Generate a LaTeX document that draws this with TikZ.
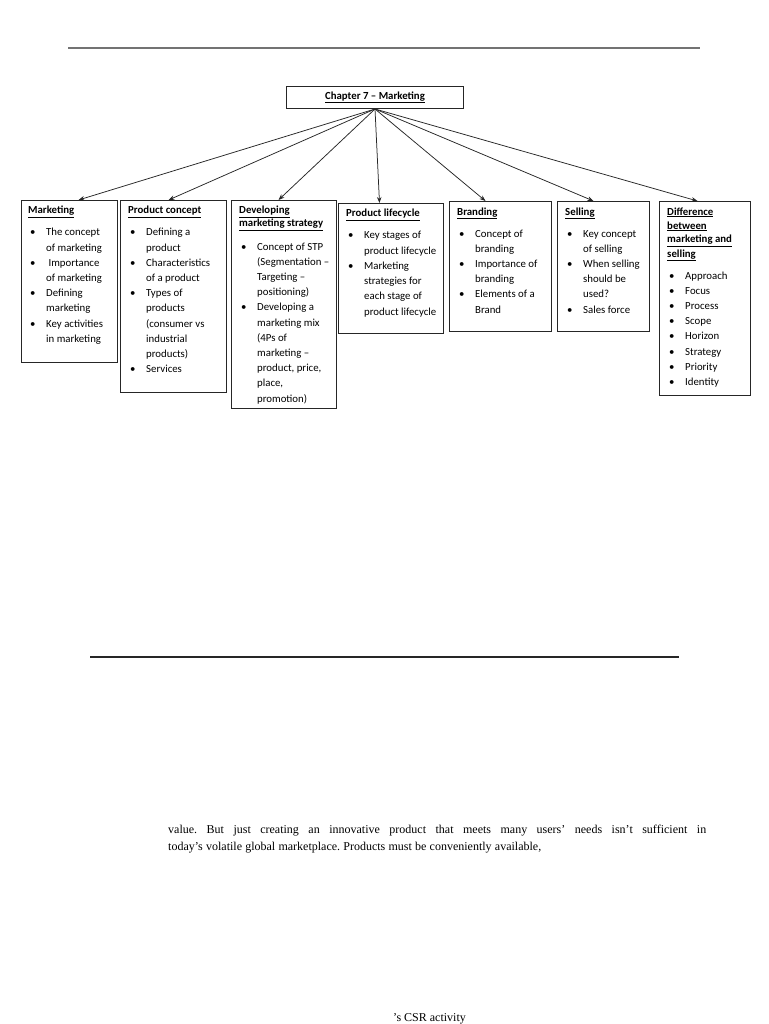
\documentclass[tikz,border=0pt]{standalone}
\usepackage{fontspec}
\setmainfont{Carlito}
\newfontfamily\tnr{Liberation Serif}
\usetikzlibrary{arrows.meta}
\newcommand{\bu}{\hspace*{2pt}\makebox[16pt][l]{•}}
\newcommand{\cn}{\hspace*{18pt}}
\newcommand{\hd}[1]{\textbf{\underline{#1}}}
\newcommand{\bx}{\fontsize{10.8}{15.2}\selectfont\raggedright}
\frenchspacing
\begin{document}
\begin{tikzpicture}[x=1pt,y=-1pt,
  box/.style={draw=black!85, line width=1pt, inner sep=0pt, anchor=north west},
  txt/.style={anchor=base west, inner sep=0pt},
  arr/.style={-{Stealth[length=6pt,width=4.5pt]}, line width=0.75pt, draw=black!85},
  rule/.style={line width=2pt}]
\useasboundingbox (0,0) rectangle (768,1024);
\fill[white] (0,0) rectangle (768,1024);

\draw[rule, black!55] (68,48) -- (700,48);
\draw[rule, black!85] (90,657) -- (679,657);

\node[box, minimum width=177pt, minimum height=22pt] (ch) at (286,86)
  {\fontsize{10.8}{12}\selectfont\hd{Chapter 7 – Marketing}};

\node[box, minimum width=96pt, minimum height=162pt] (mk) at (21,200) {};
\node[box, minimum width=106pt, minimum height=192pt] (pc) at (120,200) {};
\node[box, minimum width=105pt, minimum height=208pt] (dv) at (231,200) {};
\node[box, minimum width=105pt, minimum height=130pt] (lc) at (338,203) {};
\node[box, minimum width=102pt, minimum height=130pt] (br) at (449,201) {};
\node[box, minimum width=92pt, minimum height=130pt] (se) at (557,201) {};
\node[box, minimum width=91pt, minimum height=194pt] (df) at (659,201) {};

\node[txt] (mkt) at (28,214) {\parbox[t]{90pt}{\bx
  \hd{Marketing}\\[6.8pt]
  \bu The concept\\ \cn of marketing\\
  \bu \ Importance\\ \cn of marketing\\
  \bu Defining\\ \cn marketing\\
  \bu Key activities\\ \cn in marketing}};

\node[txt] (pct) at (128,214) {\parbox[t]{100pt}{\bx
  \hd{Product concept}\\[6.8pt]
  \bu Defining a\\ \cn product\\
  \bu Characteristics\\ \cn of a product\\
  \bu Types of\\ \cn products\\ \cn (consumer vs\\ \cn industrial\\ \cn products)\\
  \bu Services}};

\node[txt] (dvt) at (239,214) {\parbox[t]{100pt}{\bx
  \hd{Developing}\\[-2.2pt]
  \hd{marketing strategy}\\[7.8pt]
  \bu Concept of STP\\ \cn (Segmentation –\\ \cn Targeting –\\ \cn positioning)\\
  \bu Developing a\\ \cn marketing mix\\ \cn (4Ps of\\ \cn marketing –\\ \cn product, price,\\ \cn place,\\ \cn promotion)}};

\node[txt] (lct) at (346,217) {\parbox[t]{100pt}{\bx
  \hd{Product lifecycle}\\[6.8pt]
  \bu Key stages of\\ \cn product lifecycle\\
  \bu Marketing\\ \cn strategies for\\ \cn each stage of\\ \cn product lifecycle}};

\node[txt] (brt) at (457,215) {\parbox[t]{95pt}{\bx
  \hd{Branding}\\[6.8pt]
  \bu Concept of\\ \cn branding\\
  \bu Importance of\\ \cn branding\\
  \bu Elements of a\\ \cn Brand}};

\node[txt] (set) at (565,215) {\parbox[t]{85pt}{\bx
  \hd{Selling}\\[6.8pt]
  \bu Key concept\\ \cn of selling\\
  \bu When selling\\ \cn should be\\ \cn used?\\
  \bu Sales force}};

\node[txt] (dft) at (667,215) {\parbox[t]{85pt}{\bx
  \hd{Difference}\\[-1.2pt]
  \hd{between}\\[-1.2pt]
  \hd{marketing and}\\[-1.2pt]
  \hd{selling}\\[6.8pt]
  \bu Approach\\ \bu Focus\\ \bu Process\\ \bu Scope\\
  \bu Horizon\\ \bu Strategy\\ \bu Priority\\ \bu Identity}};

\draw[arr] (ch.south) -- ([xshift=9pt]mk.north);
\draw[arr] (ch.south) -- ([xshift=-5pt]pc.north);
\draw[arr] (ch.south) -- ([xshift=-5.5pt]dv.north);
\draw[arr] (ch.south) -- ([xshift=-11.5pt]lc.north);
\draw[arr] (ch.south) -- ([xshift=-15pt]br.north);
\draw[arr] (ch.south) -- ([xshift=-10pt]se.north);
\draw[arr] (ch.south) -- ([xshift=-7.5pt]df.north);

\node[txt] (para) at (168,833) {\tnr\fontsize{12}{17}\selectfont\parbox[t]{538pt}{%
  \makebox[538pt][s]{value. But just creating an innovative product that meets many users’ needs isn’t sufficient in}\\
  \makebox[373pt][s]{today’s volatile global marketplace. Products must be conveniently available,}}};

\node[txt] (csr) at (393,1021) {\tnr\fontsize{12}{14}\selectfont ’s CSR activity};
\end{tikzpicture}
\end{document}
